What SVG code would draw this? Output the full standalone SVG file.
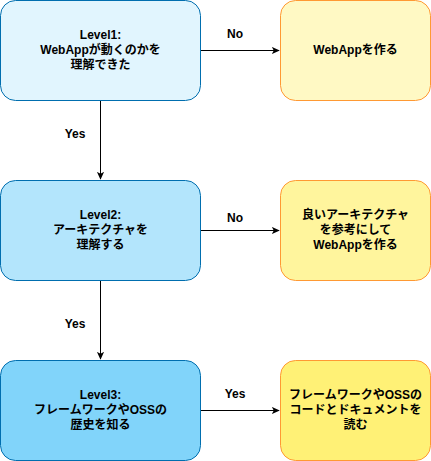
<svg xmlns="http://www.w3.org/2000/svg" width="431" height="461" viewBox="0 0 431 461">
<style>
.box{stroke-width:1}
.l{stroke:#006EAF}
.r{stroke:#FF9933}
.t{font-family:"Liberation Sans","Noto Sans CJK JP",sans-serif;font-size:12px;font-weight:bold;fill:#000;text-anchor:middle}
.e{stroke:#000;stroke-width:1;fill:none}
</style>
<defs>
<marker id="arr" viewBox="0 0 10 10" refX="9" refY="5" markerWidth="8" markerHeight="8" orient="auto" markerUnits="userSpaceOnUse">
<path d="M0,0.5 L10,5 L0,9.5 L2.5,5 Z" fill="#000"/>
</marker>
</defs>
<g id="edges">
<path class="e" d="M200.5,50.5 H279" marker-end="url(#arr)"/>
<path class="e" d="M100.5,100.5 V179" marker-end="url(#arr)"/>
<path class="e" d="M200.5,230.5 H279" marker-end="url(#arr)"/>
<path class="e" d="M100.5,280.5 V359" marker-end="url(#arr)"/>
<path class="e" d="M200.5,410.5 H279" marker-end="url(#arr)"/>
<text class="t" x="235" y="38">No</text>
<text class="t" x="75" y="138">Yes</text>
<text class="t" x="235" y="222">No</text>
<text class="t" x="75" y="328">Yes</text>
<text class="t" x="235" y="398">Yes</text>
</g>
<g id="level1">
<rect class="box l" x="0.5" y="0.5" width="200" height="100" rx="15" fill="#E1F5FE"/>
<text class="t" x="100.5" y="39">Level1:</text>
<text class="t" x="100.5" y="54">WebAppが動くのかを</text>
<text class="t" x="100.5" y="69">理解できた</text>
</g>
<g id="make1">
<rect class="box r" x="280.5" y="0.5" width="150" height="100" rx="15" fill="#FFF9C4"/>
<text class="t" x="355.5" y="54">WebAppを作る</text>
</g>
<g id="level2">
<rect class="box l" x="0.5" y="180.5" width="200" height="100" rx="15" fill="#B3E5FC"/>
<text class="t" x="100.5" y="219">Level2:</text>
<text class="t" x="100.5" y="234">アーキテクチャを</text>
<text class="t" x="100.5" y="249">理解する</text>
</g>
<g id="make2">
<rect class="box r" x="280.5" y="180.5" width="150" height="100" rx="15" fill="#FFF59D"/>
<text class="t" x="355.5" y="219">良いアーキテクチャ</text>
<text class="t" x="355.5" y="234">を参考にして</text>
<text class="t" x="355.5" y="249">WebAppを作る</text>
</g>
<g id="level3">
<rect class="box l" x="0.5" y="360.5" width="200" height="100" rx="15" fill="#81D4FA"/>
<text class="t" x="100.5" y="399">Level3:</text>
<text class="t" x="100.5" y="414">フレームワークやOSSの</text>
<text class="t" x="100.5" y="429">歴史を知る</text>
</g>
<g id="read">
<rect class="box r" x="280.5" y="360.5" width="150" height="100" rx="15" fill="#FFF176"/>
<text class="t" x="355.5" y="399">フレームワークやOSSの</text>
<text class="t" x="355.5" y="414">コードとドキュメントを</text>
<text class="t" x="355.5" y="429">読む</text>
</g>
</svg>
